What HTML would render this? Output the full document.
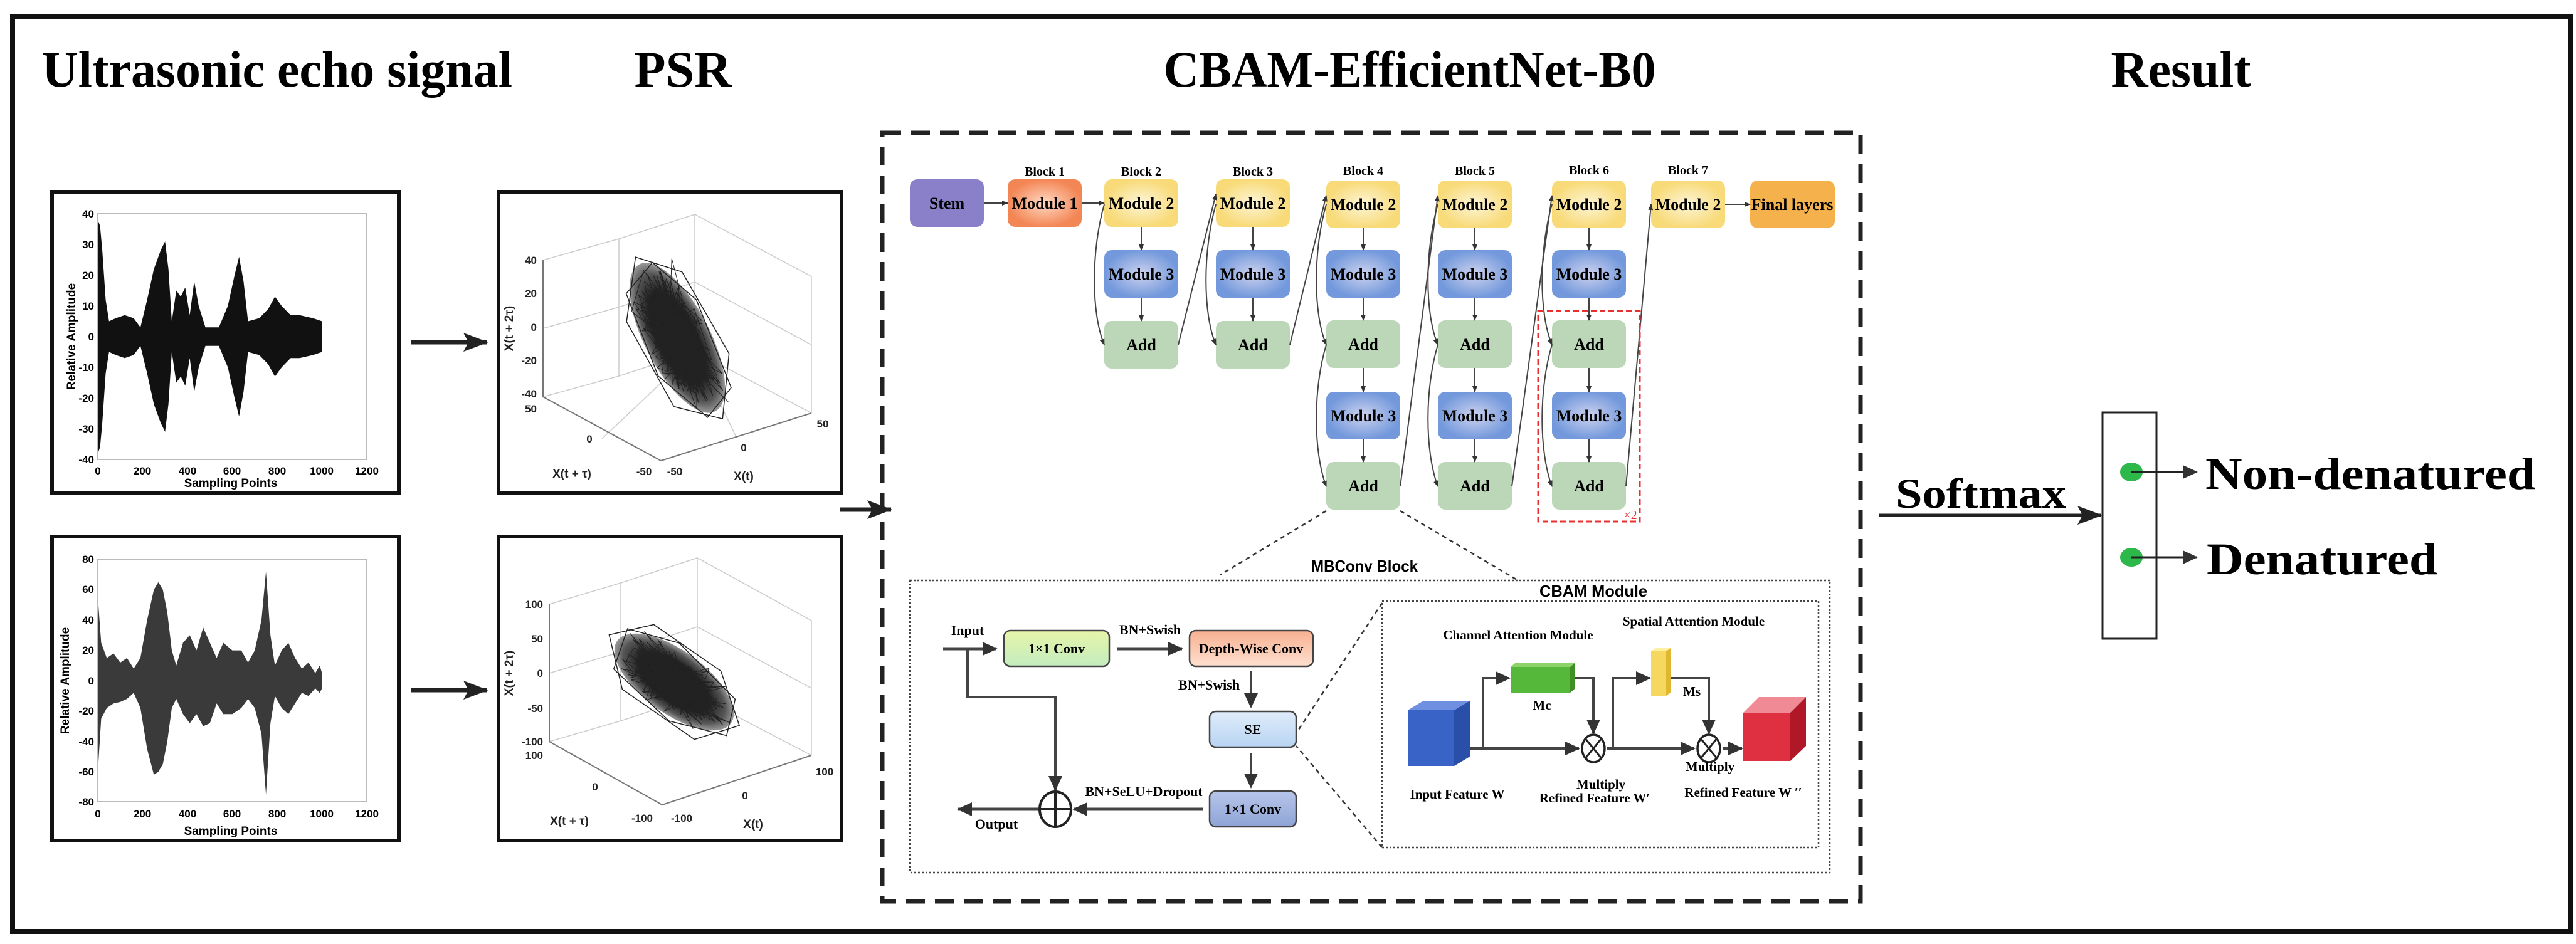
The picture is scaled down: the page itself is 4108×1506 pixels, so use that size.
<!DOCTYPE html>
<html><head><meta charset="utf-8"><style>
html,body{margin:0;padding:0;background:#fff}
svg{display:block}
text{font-family:"Liberation Serif",serif}
.s text, text.s{font-family:"Liberation Sans",sans-serif;font-weight:bold}
</style></head><body>
<svg id="root" width="4108" height="1506" viewBox="0 0 4108 1506" xmlns="http://www.w3.org/2000/svg">
<defs>
<marker id="ah" markerWidth="10" markerHeight="10" refX="9" refY="5" orient="auto" markerUnits="userSpaceOnUse"><path d="M0,1 L10,5 L0,9 z" fill="#333"/></marker>
<marker id="ahb" markerWidth="40" markerHeight="30" refX="38" refY="15" orient="auto" markerUnits="userSpaceOnUse"><path d="M0,0 L40,15 L0,30 L8,15 z" fill="#222"/></marker>
<marker id="ahm" markerWidth="24" markerHeight="22" refX="22" refY="11" orient="auto" markerUnits="userSpaceOnUse"><path d="M0,0 L24,11 L0,22 z" fill="#333"/></marker>
<radialGradient id="gY"><stop offset="0" stop-color="#fdf6d8"/><stop offset="1" stop-color="#f8da78"/></radialGradient>
<radialGradient id="gB"><stop offset="0" stop-color="#cdd2ee"/><stop offset="1" stop-color="#7399dc"/></radialGradient>
<radialGradient id="gO"><stop offset="0" stop-color="#ffd9c4"/><stop offset="1" stop-color="#f38655"/></radialGradient>
<radialGradient id="gBlob"><stop offset="0" stop-color="#111"/><stop offset="0.6" stop-color="#222"/><stop offset="0.85" stop-color="#555"/><stop offset="1" stop-color="#999"/></radialGradient>
<linearGradient id="gC1" x1="0" y1="0" x2="0" y2="1"><stop offset="0" stop-color="#e6f5a8"/><stop offset="1" stop-color="#c4ecc0"/></linearGradient>
<linearGradient id="gDW" x1="0" y1="0" x2="0" y2="1"><stop offset="0" stop-color="#f8b090"/><stop offset="1" stop-color="#fde0d0"/></linearGradient>
<linearGradient id="gSE" x1="0" y1="0" x2="0" y2="1"><stop offset="0" stop-color="#e0ecfb"/><stop offset="1" stop-color="#b8d4f2"/></linearGradient>
<linearGradient id="gC2" x1="0" y1="0" x2="0" y2="1"><stop offset="0" stop-color="#b7c6ea"/><stop offset="1" stop-color="#8ea3d6"/></linearGradient>
</defs>

<rect x="20" y="26" width="4080" height="1460" fill="none" stroke="#111" stroke-width="8"/>

<text x="67" y="138" font-size="82" font-weight="bold" textLength="750" lengthAdjust="spacingAndGlyphs">Ultrasonic echo signal</text>
<text x="1089" y="138" font-size="82" font-weight="bold" text-anchor="middle">PSR</text>
<text x="2248" y="138" font-size="82" font-weight="bold" text-anchor="middle" textLength="785" lengthAdjust="spacingAndGlyphs">CBAM-EfficientNet-B0</text>
<text x="3478" y="138" font-size="82" font-weight="bold" text-anchor="middle">Result</text>

<!-- Waveform plot 1 -->
<rect x="83" y="306" width="553" height="480" fill="#fff" stroke="#111" stroke-width="6"/>
<rect x="156" y="341" width="429" height="392" fill="none" stroke="#bbb" stroke-width="2"/>
<g fill="#111" id="w1">
<path transform="translate(156,537) scale(0.3575,-4.9)" d="M0,0 L0,38 10,36 20,28 35,12 50,5 80,6 120,7 160,6 190,3 220,12 250,22 280,28 300,31 315,22 330,5 350,15 370,13 390,16 410,7 430,18 450,10 480,3 540,3 580,10 610,20 630,26 650,18 670,5 720,6 760,9 790,13 820,10 860,7 900,7 960,6 1000,5 1000,0 z"/>
<path transform="translate(156,537) scale(0.3575,4.9)" d="M0,0 L0,38 10,36 20,28 35,12 50,5 80,6 120,7 160,6 190,3 220,12 250,22 280,28 300,31 315,22 330,5 350,15 370,13 390,16 410,7 430,18 450,10 480,3 540,3 580,10 610,20 630,26 650,18 670,5 720,6 760,9 790,13 820,10 860,7 900,7 960,6 1000,5 1000,0 z"/>
</g>
<g class="s" font-size="17" text-anchor="end">
<text x="150" y="347">40</text><text x="150" y="396">30</text><text x="150" y="445">20</text><text x="150" y="494">10</text><text x="150" y="543">0</text><text x="150" y="592">-10</text><text x="150" y="641">-20</text><text x="150" y="690">-30</text><text x="150" y="739">-40</text>
</g>
<g class="s" font-size="17" text-anchor="middle">
<text x="156" y="757">0</text><text x="227" y="757">200</text><text x="299" y="757">400</text><text x="370" y="757">600</text><text x="442" y="757">800</text><text x="513" y="757">1000</text><text x="585" y="757">1200</text>
<text x="368" y="777" font-size="19">Sampling Points</text>
<text transform="translate(120,537) rotate(-90)" font-size="19">Relative Amplitude</text>
</g>

<!-- Waveform plot 2 -->
<rect x="83" y="856" width="553" height="485" fill="#fff" stroke="#111" stroke-width="6"/>
<rect x="156" y="892" width="429" height="387" fill="none" stroke="#bbb" stroke-width="2"/>
<g fill="#3a3a3a">
<path transform="translate(156,1086) scale(0.3575,-2.42)" d="M0,0 L0,55 15,25 40,15 70,18 100,12 130,15 160,8 190,15 220,40 250,60 270,65 290,60 310,45 330,20 350,10 380,25 410,30 440,20 470,35 500,25 530,15 560,25 600,20 640,20 670,12 700,20 730,40 750,72 770,30 790,10 820,20 850,25 880,15 910,8 940,12 970,5 990,10 1000,5 1000,0 z"/>
<path transform="translate(156,1086) scale(0.3575,2.42)" d="M0,0 L0,60 15,25 40,18 70,15 100,14 130,12 160,8 190,18 220,45 250,62 270,60 290,55 310,40 330,18 350,12 380,22 410,28 440,22 470,30 500,28 530,15 560,22 600,22 640,18 670,12 700,18 730,35 750,75 770,28 790,10 820,18 850,22 880,15 910,8 940,10 970,5 990,8 1000,5 1000,0 z"/>
</g>
<g class="s" font-size="17" text-anchor="end">
<text x="150" y="898">80</text><text x="150" y="946">60</text><text x="150" y="995">40</text><text x="150" y="1043">20</text><text x="150" y="1092">0</text><text x="150" y="1140">-20</text><text x="150" y="1189">-40</text><text x="150" y="1237">-60</text><text x="150" y="1285">-80</text>
</g>
<g class="s" font-size="17" text-anchor="middle">
<text x="156" y="1304">0</text><text x="227" y="1304">200</text><text x="299" y="1304">400</text><text x="370" y="1304">600</text><text x="442" y="1304">800</text><text x="513" y="1304">1000</text><text x="585" y="1304">1200</text>
<text x="368" y="1332" font-size="19">Sampling Points</text>
<text transform="translate(110,1086) rotate(-90)" font-size="19">Relative Amplitude</text>
</g>

<line x1="656" y1="546" x2="777" y2="546" stroke="#222" stroke-width="7" marker-end="url(#ahb)"/>
<line x1="656" y1="1101" x2="777" y2="1101" stroke="#222" stroke-width="7" marker-end="url(#ahb)"/>

<!-- PSR plot 1 -->
<rect x="795" y="306" width="547" height="480" fill="#fff" stroke="#111" stroke-width="6"/>
<g stroke="#ccc" stroke-width="1.5" fill="none">
<path d="M866,415 L987,381 L1108,342 L1294,441 L1294,659"/>
<path d="M987,381 L987,600 L1108,560 L1294,659"/>
<path d="M1108,342 L1108,560"/>
<path d="M866,633 L987,600"/><path d="M866,524 L987,490 L1108,450 L1294,550"/>
<path d="M960,700 L1108,560"/><path d="M1174,697 L1108,560"/>
</g>
<path d="M866,415 L866,633 L1054,735 L1294,659" stroke="#777" stroke-width="2" fill="none"/>
<g transform="translate(1080,539) rotate(62.7)">
<ellipse rx="132" ry="52" fill="url(#gBlob)"/>
<g id="sc1" fill="none" stroke="#222" stroke-width="1.5"><polygon points="-145,0 -90,-55 60,-62 148,-5 95,55 -60,60"/><polygon points="-125,-20 -40,-55 110,-40 135,15 40,55 -100,40"/></g>
</g>

<g class="s" font-size="17" text-anchor="end" fill="#222">
<text x="856" y="421">40</text><text x="856" y="474">20</text><text x="856" y="528">0</text><text x="856" y="581">-20</text><text x="856" y="634">-40</text><text x="856" y="658">50</text>
</g>
<g class="s" font-size="17" text-anchor="middle" fill="#222">
<text x="940" y="706">0</text><text x="912" y="762" font-size="19">X(t + τ)</text><text x="1027" y="758">-50</text><text x="1076" y="758">-50</text><text x="1186" y="720">0</text><text x="1186" y="766" font-size="19">X(t)</text><text x="1312" y="682">50</text>
<text transform="translate(818,524) rotate(-90)" font-size="19">X(t + 2τ)</text>
</g>

<!-- PSR plot 2 -->
<rect x="795" y="856" width="547" height="485" fill="#fff" stroke="#111" stroke-width="6"/>
<g stroke="#ccc" stroke-width="1.5" fill="none">
<path d="M876,964 L990,930 L1112,890 L1294,990 L1294,1205"/>
<path d="M990,930 L990,1150 L1112,1110 L1294,1205"/>
<path d="M1112,890 L1112,1110"/>
<path d="M876,1183 L990,1150"/><path d="M876,1074 L990,1040 L1112,1000 L1294,1098"/>
</g>
<path d="M876,964 L876,1183 L1056,1284 L1294,1205" stroke="#777" stroke-width="2" fill="none"/>
<g transform="translate(1075,1088) rotate(36)">
<ellipse rx="112" ry="50" fill="url(#gBlob)"/>
<g id="sc2" fill="none" stroke="#222" stroke-width="1.5"><polygon points="-128,0 -80,-55 50,-58 125,-5 80,55 -60,58"/><polygon points="-110,-25 -30,-55 95,-35 118,20 30,55 -90,40"/></g>
</g>
<g class="s" font-size="17" text-anchor="end" fill="#222">
<text x="866" y="970">100</text><text x="866" y="1025">50</text><text x="866" y="1080">0</text><text x="866" y="1136">-50</text><text x="866" y="1189">-100</text><text x="866" y="1211">100</text>
</g>
<g class="s" font-size="17" text-anchor="middle" fill="#222">
<text x="949" y="1261">0</text><text x="908" y="1316" font-size="19">X(t + τ)</text><text x="1024" y="1311">-100</text><text x="1087" y="1311">-100</text><text x="1188" y="1275">0</text><text x="1201" y="1321" font-size="19">X(t)</text><text x="1315" y="1237">100</text>
<text transform="translate(818,1074) rotate(-90)" font-size="19">X(t + 2τ)</text>
</g>

<line x1="1339" y1="813" x2="1421" y2="813" stroke="#222" stroke-width="7" marker-end="url(#ahb)"/>

<rect x="1407" y="212" width="1560" height="1226" fill="none" stroke="#222" stroke-width="7" stroke-dasharray="30 16"/>

<g font-size="26" font-weight="bold" text-anchor="middle">
<rect x="1451" y="286" width="118" height="76" rx="12" fill="#8a80c9"/><text x="1510" y="333">Stem</text>
<rect x="1607" y="286" width="118" height="76" rx="12" fill="url(#gO)"/><text x="1666" y="333">Module 1</text>
<rect x="1761" y="286" width="118" height="76" rx="12" fill="url(#gY)"/><text x="1820" y="333">Module 2</text>
<rect x="1939" y="286" width="118" height="76" rx="12" fill="url(#gY)"/><text x="1998" y="333">Module 2</text>
<rect x="2115" y="288" width="118" height="76" rx="12" fill="url(#gY)"/><text x="2174" y="335">Module 2</text>
<rect x="2293" y="288" width="118" height="76" rx="12" fill="url(#gY)"/><text x="2352" y="335">Module 2</text>
<rect x="2475" y="288" width="118" height="76" rx="12" fill="url(#gY)"/><text x="2534" y="335">Module 2</text>
<rect x="2633" y="288" width="118" height="76" rx="12" fill="url(#gY)"/><text x="2692" y="335">Module 2</text>
<rect x="2791" y="288" width="135" height="76" rx="12" fill="#f5b24c"/><text x="2858" y="335">Final layers</text>

<rect x="1761" y="399" width="118" height="76" rx="12" fill="url(#gB)"/><text x="1820" y="446">Module 3</text>
<rect x="1939" y="399" width="118" height="76" rx="12" fill="url(#gB)"/><text x="1998" y="446">Module 3</text>
<rect x="2115" y="399" width="118" height="76" rx="12" fill="url(#gB)"/><text x="2174" y="446">Module 3</text>
<rect x="2293" y="399" width="118" height="76" rx="12" fill="url(#gB)"/><text x="2352" y="446">Module 3</text>
<rect x="2475" y="399" width="118" height="76" rx="12" fill="url(#gB)"/><text x="2534" y="446">Module 3</text>

<rect x="1761" y="512" width="118" height="76" rx="12" fill="#bcd6b8"/><text x="1820" y="559">Add</text>
<rect x="1939" y="512" width="118" height="76" rx="12" fill="#bcd6b8"/><text x="1998" y="559">Add</text>
<rect x="2115" y="511" width="118" height="76" rx="12" fill="#bcd6b8"/><text x="2174" y="558">Add</text>
<rect x="2293" y="511" width="118" height="76" rx="12" fill="#bcd6b8"/><text x="2352" y="558">Add</text>
<rect x="2475" y="511" width="118" height="76" rx="12" fill="#bcd6b8"/><text x="2534" y="558">Add</text>

<rect x="2115" y="625" width="118" height="76" rx="12" fill="url(#gB)"/><text x="2174" y="672">Module 3</text>
<rect x="2293" y="625" width="118" height="76" rx="12" fill="url(#gB)"/><text x="2352" y="672">Module 3</text>
<rect x="2475" y="625" width="118" height="76" rx="12" fill="url(#gB)"/><text x="2534" y="672">Module 3</text>

<rect x="2115" y="737" width="118" height="76" rx="12" fill="#bcd6b8"/><text x="2174" y="784">Add</text>
<rect x="2293" y="737" width="118" height="76" rx="12" fill="#bcd6b8"/><text x="2352" y="784">Add</text>
<rect x="2475" y="737" width="118" height="76" rx="12" fill="#bcd6b8"/><text x="2534" y="784">Add</text>
</g>
<g font-size="20" font-weight="bold" text-anchor="middle">
<text x="1666" y="280">Block 1</text><text x="1820" y="280">Block 2</text><text x="1998" y="280">Block 3</text><text x="2174" y="279">Block 4</text><text x="2352" y="279">Block 5</text><text x="2534" y="278">Block 6</text><text x="2692" y="278">Block 7</text>
</g>

<g stroke="#444" stroke-width="2" fill="none" marker-end="url(#ah)">
<line x1="1569" y1="324" x2="1607" y2="324"/>
<line x1="1725" y1="324" x2="1761" y2="324"/>
<line x1="2751" y1="326" x2="2791" y2="326"/>
<line x1="1820" y1="362" x2="1820" y2="399"/><line x1="1820" y1="475" x2="1820" y2="512"/>
<line x1="1998" y1="362" x2="1998" y2="399"/><line x1="1998" y1="475" x2="1998" y2="512"/>
<line x1="2174" y1="364" x2="2174" y2="399"/><line x1="2174" y1="475" x2="2174" y2="511"/><line x1="2174" y1="587" x2="2174" y2="625"/><line x1="2174" y1="701" x2="2174" y2="737"/>
<line x1="2352" y1="364" x2="2352" y2="399"/><line x1="2352" y1="475" x2="2352" y2="511"/><line x1="2352" y1="587" x2="2352" y2="625"/><line x1="2352" y1="701" x2="2352" y2="737"/>
<line x1="2534" y1="364" x2="2534" y2="399"/><line x1="2534" y1="475" x2="2534" y2="511"/><line x1="2534" y1="587" x2="2534" y2="625"/><line x1="2534" y1="701" x2="2534" y2="737"/>
<path d="M1761,326 C1740,400 1740,500 1761,550"/>
<path d="M1939,326 C1918,400 1918,500 1939,550"/>
<path d="M2115,326 C2094,400 2094,500 2115,550"/>
<path d="M2115,550 C2094,620 2094,720 2115,776"/>
<path d="M2293,326 C2272,400 2272,500 2293,550"/>
<path d="M2293,550 C2272,620 2272,720 2293,776"/>
<path d="M2475,326 C2454,400 2454,500 2475,550"/>
<path d="M2475,550 C2454,620 2454,720 2475,776"/>
<path d="M1879,550 L1939,310"/>
<path d="M2057,550 L2115,312"/>
<path d="M2233,776 L2293,312"/>
<path d="M2411,776 L2475,312"/>
<path d="M2593,776 L2633,326"/>
</g>
<rect x="2453" y="496" width="162" height="336" fill="none" stroke="#e83030" stroke-width="3" stroke-dasharray="9 5"/>
<text x="2600" y="828" font-size="20" fill="#e83030" text-anchor="middle">×2</text>

<g stroke="#333" stroke-width="2.5" stroke-dasharray="7 6" fill="none">
<line x1="2115" y1="815" x2="1946" y2="917"/>
<line x1="2233" y1="815" x2="2421" y2="926"/>
<line x1="2204" y1="962" x2="2067" y2="1170"/>
<line x1="2204" y1="1352" x2="2067" y2="1190"/>
</g>

<text x="2176" y="912" font-size="26" text-anchor="middle" class="s" textLength="170" lengthAdjust="spacingAndGlyphs">MBConv Block</text>
<rect x="1451" y="926" width="1467" height="466" fill="none" stroke="#444" stroke-width="2.5" stroke-dasharray="3 3"/>
<text x="2541" y="952" font-size="26" text-anchor="middle" class="s" textLength="172" lengthAdjust="spacingAndGlyphs">CBAM Module</text>
<rect x="2204" y="959" width="696" height="393" fill="none" stroke="#444" stroke-width="2.5" stroke-dasharray="3 3"/>

<g font-size="22" font-weight="bold" text-anchor="middle">
<text x="1543" y="1013">Input</text>
<rect x="1601" y="1006" width="168" height="57" rx="10" fill="url(#gC1)" stroke="#444" stroke-width="2.5"/><text x="1685" y="1042">1×1 Conv</text>
<text x="1834" y="1012">BN+Swish</text>
<rect x="1897" y="1006" width="197" height="57" rx="10" fill="url(#gDW)" stroke="#444" stroke-width="2.5"/><text x="1995" y="1042">Depth-Wise Conv</text>
<text x="1928" y="1100">BN+Swish</text>
<rect x="1929" y="1135" width="138" height="57" rx="10" fill="url(#gSE)" stroke="#444" stroke-width="2.5"/><text x="1998" y="1171">SE</text>
<rect x="1929" y="1262" width="138" height="57" rx="10" fill="url(#gC2)" stroke="#444" stroke-width="2.5"/><text x="1998" y="1298">1×1 Conv</text>
<text x="1824" y="1270">BN+SeLU+Dropout</text>
<text x="1589" y="1322">Output</text>
</g>
<g stroke="#444" stroke-width="5" fill="none">
<line x1="1504" y1="1035" x2="1589" y2="1035" marker-end="url(#ahm)"/>
<line x1="1781" y1="1035" x2="1885" y2="1035" marker-end="url(#ahm)"/>
<line x1="1995" y1="1070" x2="1995" y2="1128" stroke-width="3" marker-end="url(#ahm)"/>
<line x1="1995" y1="1202" x2="1995" y2="1256" stroke-width="3" marker-end="url(#ahm)"/>
<line x1="1919" y1="1291" x2="1712" y2="1291" marker-end="url(#ahm)"/>
<line x1="1655" y1="1291" x2="1528" y2="1291" marker-end="url(#ahm)"/>
<path d="M1543,1035 L1543,1112 L1683,1112 L1683,1260" stroke-width="4" marker-end="url(#ahm)"/>
<ellipse cx="1683" cy="1291" rx="25" ry="28" stroke="#222" stroke-width="4"/>
<path d="M1658,1291 H1708 M1683,1263 V1319" stroke="#222" stroke-width="4"/>
</g>

<g>
<polygon points="2245,1133 2270,1118 2344,1118 2319,1133" fill="#6f8fe0"/>
<polygon points="2319,1133 2344,1118 2344,1207 2319,1222" fill="#2a4fa8"/>
<rect x="2245" y="1133" width="74" height="89" fill="#3a63c8"/>
<polygon points="2409,1064 2416,1058 2511,1058 2504,1064" fill="#8ed36a"/>
<polygon points="2504,1064 2511,1058 2511,1099 2504,1105" fill="#3f8f25"/>
<rect x="2409" y="1064" width="95" height="41" fill="#55b83a"/>
<polygon points="2633,1039 2640,1034 2664,1034 2657,1039" fill="#fff0a0"/>
<polygon points="2657,1039 2664,1034 2664,1105 2657,1110" fill="#e0b830"/>
<rect x="2633" y="1039" width="24" height="71" fill="#f6d860"/>
<polygon points="2780,1137 2805,1112 2880,1112 2855,1137" fill="#f08a95"/>
<polygon points="2855,1137 2880,1112 2880,1190 2855,1214" fill="#b01828"/>
<rect x="2780" y="1137" width="75" height="77" fill="#de3040"/>
</g>
<g stroke="#444" stroke-width="4" fill="none">
<line x1="2344" y1="1194" x2="2518" y2="1194" marker-end="url(#ahm)"/>
<path d="M2365,1194 V1082 H2407" marker-end="url(#ahm)"/>
<path d="M2511,1082 H2541 V1170" marker-end="url(#ahm)"/>
<line x1="2563" y1="1194" x2="2702" y2="1194" marker-end="url(#ahm)"/>
<path d="M2572,1194 V1082 H2631" marker-end="url(#ahm)"/>
<path d="M2664,1082 H2725 V1170" marker-end="url(#ahm)"/>
<line x1="2748" y1="1194" x2="2778" y2="1194" marker-end="url(#ahm)"/>
<ellipse cx="2541" cy="1194" rx="18" ry="22" stroke="#222" stroke-width="3.5"/>
<path d="M2528,1178 L2554,1210 M2554,1178 L2528,1210" stroke="#222" stroke-width="3"/>
<ellipse cx="2725" cy="1194" rx="18" ry="22" stroke="#222" stroke-width="3.5"/>
<path d="M2712,1178 L2738,1210 M2738,1178 L2712,1210" stroke="#222" stroke-width="3"/>
</g>
<g font-size="21" font-weight="bold" text-anchor="middle">
<text x="2421" y="1020">Channel Attention Module</text>
<text x="2701" y="998">Spatial Attention Module</text>
<text x="2459" y="1132">Mc</text>
<text x="2698" y="1110">Ms</text>
<text x="2324" y="1274">Input Feature W</text>
<text x="2553" y="1258">Multiply</text>
<text x="2543" y="1280">Refined Feature W′</text>
<text x="2727" y="1230">Multiply</text>
<text x="2780" y="1271">Refined Feature W ′′</text>
</g>

<line x1="2997" y1="822" x2="3351" y2="822" stroke="#222" stroke-width="5" marker-end="url(#ahb)"/>
<text x="3023" y="810" font-size="68" font-weight="bold" textLength="272" lengthAdjust="spacingAndGlyphs">Softmax</text>
<rect x="3353" y="658" width="86" height="361" fill="#fff" stroke="#222" stroke-width="3"/>
<ellipse cx="3399" cy="753" rx="18" ry="15" fill="#2db84a"/>
<ellipse cx="3399" cy="889" rx="18" ry="15" fill="#2db84a"/>
<line x1="3399" y1="753" x2="3503" y2="753" stroke="#222" stroke-width="3" marker-end="url(#ahm)"/>
<line x1="3399" y1="889" x2="3503" y2="889" stroke="#222" stroke-width="3" marker-end="url(#ahm)"/>
<text x="3517" y="780" font-size="72" font-weight="bold" textLength="526" lengthAdjust="spacingAndGlyphs">Non-denatured</text>
<text x="3519" y="916" font-size="72" font-weight="bold" textLength="368" lengthAdjust="spacingAndGlyphs">Denatured</text>
</svg>
<script>
(function(){
  var seed=7;function r(){seed=(seed*16807)%2147483647;return seed/2147483647;}
  function g(){return (r()+r()+r()-1.5)/1.5;}
  function scr(id,rx,ry,n){
    var el=document.getElementById(id);if(!el)return;
    var p=[];for(var i=0;i<n;i++){p.push((g()*rx).toFixed(1)+","+(g()*ry).toFixed(1));}
    var pl=document.createElementNS("http://www.w3.org/2000/svg","polyline");
    pl.setAttribute("points",p.join(" "));pl.setAttribute("stroke-width","1");pl.setAttribute("stroke","#222");
    el.appendChild(pl);
  }
  scr("sc1",140,58,500);scr("sc2",120,55,500);
})();
</script>
</body></html>
